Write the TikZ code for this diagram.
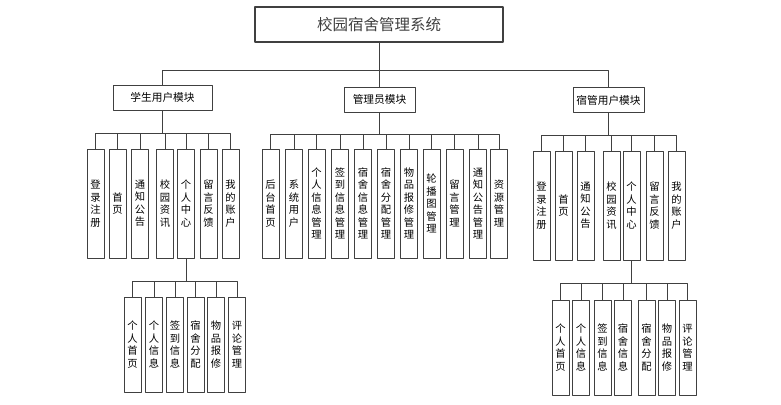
\documentclass[tikz,border=0pt]{standalone}
\usepackage{fontspec}
\newfontfamily\cjk{Noto Sans CJK SC}
\begin{document}
\begin{tikzpicture}[x=1pt,y=-1pt,line join=round,
    box/.style={draw=black!75,line width=0.9pt,inner sep=0pt,align=center,
      font=\cjk\fontsize{10.3}{12.5}\selectfont},
    modbox/.style={box,minimum height=25pt,font=\cjk\fontsize{10.7}{12.5}\selectfont},
    leaf/.style={box,minimum width=17pt,minimum height=109pt},
    subleaf/.style={box,minimum width=17pt,minimum height=95pt},
    link/.style={draw=black!75,line width=0.8pt}]
  \useasboundingbox (0,0) rectangle (781,404);
  \node[box,minimum width=248pt,minimum height=35pt,line width=1.2pt,text=black!75,
    font=\cjk\fontsize{15.5}{18}\selectfont] (sys) at (379,24.5) {校园宿舍管理系统};
  \node[modbox,minimum width=99pt] (stu) at (162.5,97.5) {学生用户模块};
  \node[modbox,minimum width=71pt] (adm) at (379.5,99.5) {管理员模块};
  \node[modbox,minimum width=71pt] (dor) at (608.5,100) {宿管用户模块};
  % student module
  \foreach \x/\t [count=\i] in {95.5/{登\\录\\注\\册},117.5/{首\\页},140/{通\\知\\公\\告},
      165/{校\\园\\资\\讯},186/{个\\人\\中\\心},208.5/{留\\言\\反\\馈},230.5/{我\\的\\账\\户}}
    \node[leaf] (s\i) at (\x,203.5) {\t};
  % admin module
  \foreach \x/\t [count=\i] in {270.5/{后\\台\\首\\页},294/{系\\统\\用\\户},
      316.5/{个\\人\\信\\息\\管\\理},340/{签\\到\\信\\息\\管\\理},363/{宿\\舍\\信\\息\\管\\理},
      386/{宿\\舍\\分\\配\\管\\理},409/{物\\品\\报\\修\\管\\理},431.5/{轮\\播\\图\\管\\理},
      454.5/{留\\言\\管\\理},478/{通\\知\\公\\告\\管\\理},499/{资\\源\\管\\理}}
    \node[leaf] (m\i) at (\x,203.5) {\t};
  % dorm manager module
  \foreach \x/\t [count=\i] in {541.5/{登\\录\\注\\册},563.5/{首\\页},585.5/{通\\知\\公\\告},
      611.5/{校\\园\\资\\讯},631.5/{个\\人\\中\\心},654.5/{留\\言\\反\\馈},676.5/{我\\的\\账\\户}}
    \node[leaf] (d\i) at (\x,205.5) {\t};
  % personal centre, student
  \foreach \x/\t [count=\i] in {132.5/{个\\人\\首\\页},154/{个\\人\\信\\息},175/{签\\到\\信\\息},
      195.5/{宿\\舍\\分\\配},216/{物\\品\\报\\修},237/{评\\论\\管\\理}}
    \node[subleaf] (sp\i) at (\x,344.5) {\t};
  % personal centre, dorm manager
  \foreach \x/\t [count=\i] in {560.5/{个\\人\\首\\页},581/{个\\人\\信\\息},602.5/{签\\到\\信\\息},
      623/{宿\\舍\\信\\息},646.5/{宿\\舍\\分\\配},667/{物\\品\\报\\修},687.5/{评\\论\\管\\理}}
    \node[subleaf] (dp\i) at (\x,347.5) {\t};
  % connectors
  \foreach \n in {stu,adm,dor}
    \draw[link] (sys.south) -- ++(0,28) -| (\n.north);
  \foreach \i in {1,...,7}
    \draw[link] (stu.south) -- ++(0,23) -| (s\i.north);
  \foreach \i in {1,...,11}
    \draw[link] (adm.south) -- ++(0,22) -| (m\i.north);
  \foreach \i in {1,...,7}
    \draw[link] (dor.south) -- ++(0,22) -| (d\i.north);
  \foreach \i in {1,...,6}
    \draw[link] (s5.south) -- ++(0,23) -| (sp\i.north);
  \foreach \i in {1,...,7}
    \draw[link] (d5.south) -- ++(0,23) -| (dp\i.north);
\end{tikzpicture}
\end{document}
